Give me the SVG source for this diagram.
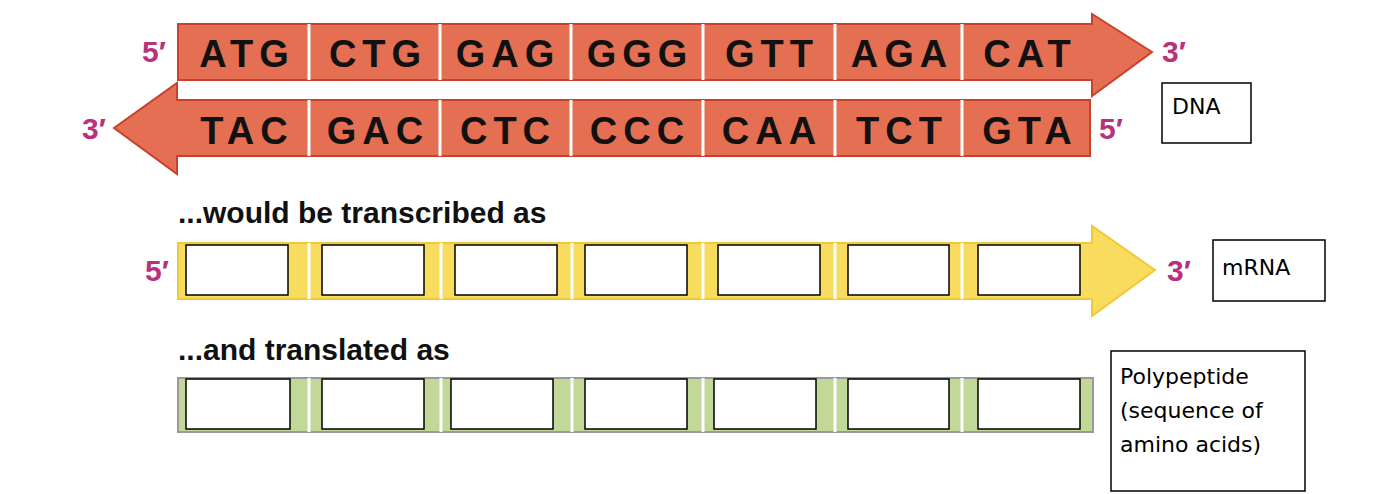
<svg xmlns="http://www.w3.org/2000/svg" width="1400" height="494" viewBox="0 0 1400 494">
<style>
.dna{fill:#e46f52;stroke:#c9402e;stroke-width:2}
.rna{fill:#f8dc5e;stroke:#f0c93a;stroke-width:2}
.pep{fill:#c2d898;stroke:#9a9a9a;stroke-width:2}
.div{stroke:#fff;stroke-width:3}
.cod{font-family:"Liberation Sans",Arial,sans-serif;font-weight:bold;font-size:38px;fill:#111;letter-spacing:6px;text-anchor:middle}
.end{font-family:"Liberation Sans",Arial,sans-serif;font-weight:bold;font-size:30px;fill:#b7317e}
.cap{font-family:"Liberation Sans",Arial,sans-serif;font-weight:bold;font-size:30px;fill:#111}
.box{fill:#fff;stroke:#000;stroke-width:1.5}
.lbl{font-family:"DejaVu Sans",sans-serif;font-size:22px;fill:#000}
</style>
<g id="dna-top">
<path class="dna" d="M178,24H1092V14L1152,52L1092,96V80H178Z"/>
<g class="div"><line x1="309" y1="24" x2="309" y2="80"/><line x1="440" y1="24" x2="440" y2="80"/><line x1="571" y1="24" x2="571" y2="80"/><line x1="703" y1="24" x2="703" y2="80"/><line x1="835" y1="24" x2="835" y2="80"/><line x1="962" y1="24" x2="962" y2="80"/></g>
<g class="cod"><text x="247" y="67">ATG</text><text x="378" y="67">CTG</text><text x="508" y="67">GAG</text><text x="640" y="67">GGG</text><text x="772" y="67">GTT</text><text x="902" y="67">AGA</text><text x="1030" y="67">CAT</text></g>
<text class="end" x="142" y="62">5′</text><text class="end" x="1162" y="62">3′</text>
</g>
<g id="dna-bottom">
<path class="dna" d="M1090,100H177V83L114,128L177,174V156H1090Z"/>
<g class="div"><line x1="309" y1="100" x2="309" y2="156"/><line x1="440" y1="100" x2="440" y2="156"/><line x1="571" y1="100" x2="571" y2="156"/><line x1="703" y1="100" x2="703" y2="156"/><line x1="835" y1="100" x2="835" y2="156"/><line x1="962" y1="100" x2="962" y2="156"/></g>
<g class="cod"><text x="247" y="144">TAC</text><text x="378" y="144">GAC</text><text x="508" y="144">CTC</text><text x="640" y="144">CCC</text><text x="772" y="144">CAA</text><text x="902" y="144">TCT</text><text x="1030" y="144">GTA</text></g>
<text class="end" x="82" y="139">3′</text><text class="end" x="1099" y="139">5′</text>
</g>
<text class="cap" x="178" y="223">...would be transcribed as</text>
<g id="mrna">
<path class="rna" d="M178,243H1092V226L1155,270L1092,316V299H178Z"/>
<g class="div"><line x1="309" y1="243" x2="309" y2="299"/><line x1="441" y1="243" x2="441" y2="299"/><line x1="572" y1="243" x2="572" y2="299"/><line x1="703" y1="243" x2="703" y2="299"/><line x1="835" y1="243" x2="835" y2="299"/><line x1="962" y1="243" x2="962" y2="299"/></g>
<g class="box"><rect x="186" y="245" width="102" height="50"/><rect x="322" y="245" width="102" height="50"/><rect x="455" y="245" width="102" height="50"/><rect x="585" y="245" width="102" height="50"/><rect x="718" y="245" width="102" height="50"/><rect x="848" y="245" width="101" height="50"/><rect x="978" y="245" width="102" height="50"/></g>
<text class="end" x="145" y="281">5′</text><text class="end" x="1167" y="281">3′</text>
</g>
<text class="cap" x="178" y="360">...and translated as</text>
<g id="polypeptide">
<rect class="pep" x="178" y="378" width="915" height="54"/>
<g class="div"><line x1="309" y1="378" x2="309" y2="432"/><line x1="441" y1="378" x2="441" y2="432"/><line x1="572" y1="378" x2="572" y2="432"/><line x1="703" y1="378" x2="703" y2="432"/><line x1="835" y1="378" x2="835" y2="432"/><line x1="962" y1="378" x2="962" y2="432"/></g>
<g class="box"><rect x="186" y="379" width="104" height="50"/><rect x="322" y="379" width="102" height="50"/><rect x="451" y="379" width="102" height="50"/><rect x="585" y="379" width="102" height="50"/><rect x="714" y="379" width="102" height="50"/><rect x="848" y="379" width="101" height="50"/><rect x="978" y="379" width="102" height="50"/></g>
</g>
<g id="label-dna"><rect class="box" x="1162" y="83" width="89" height="60"/><text class="lbl" x="1172" y="114">DNA</text></g>
<g id="label-mrna"><rect class="box" x="1213" y="240" width="112" height="61"/><text class="lbl" x="1222" y="275">mRNA</text></g>
<g id="label-pep"><rect class="box" x="1111" y="351" width="194" height="140"/><text class="lbl" x="1120" y="384">Polypeptide</text><text class="lbl" x="1120" y="418">(sequence of</text><text class="lbl" x="1120" y="452">amino acids)</text></g>
</svg>
